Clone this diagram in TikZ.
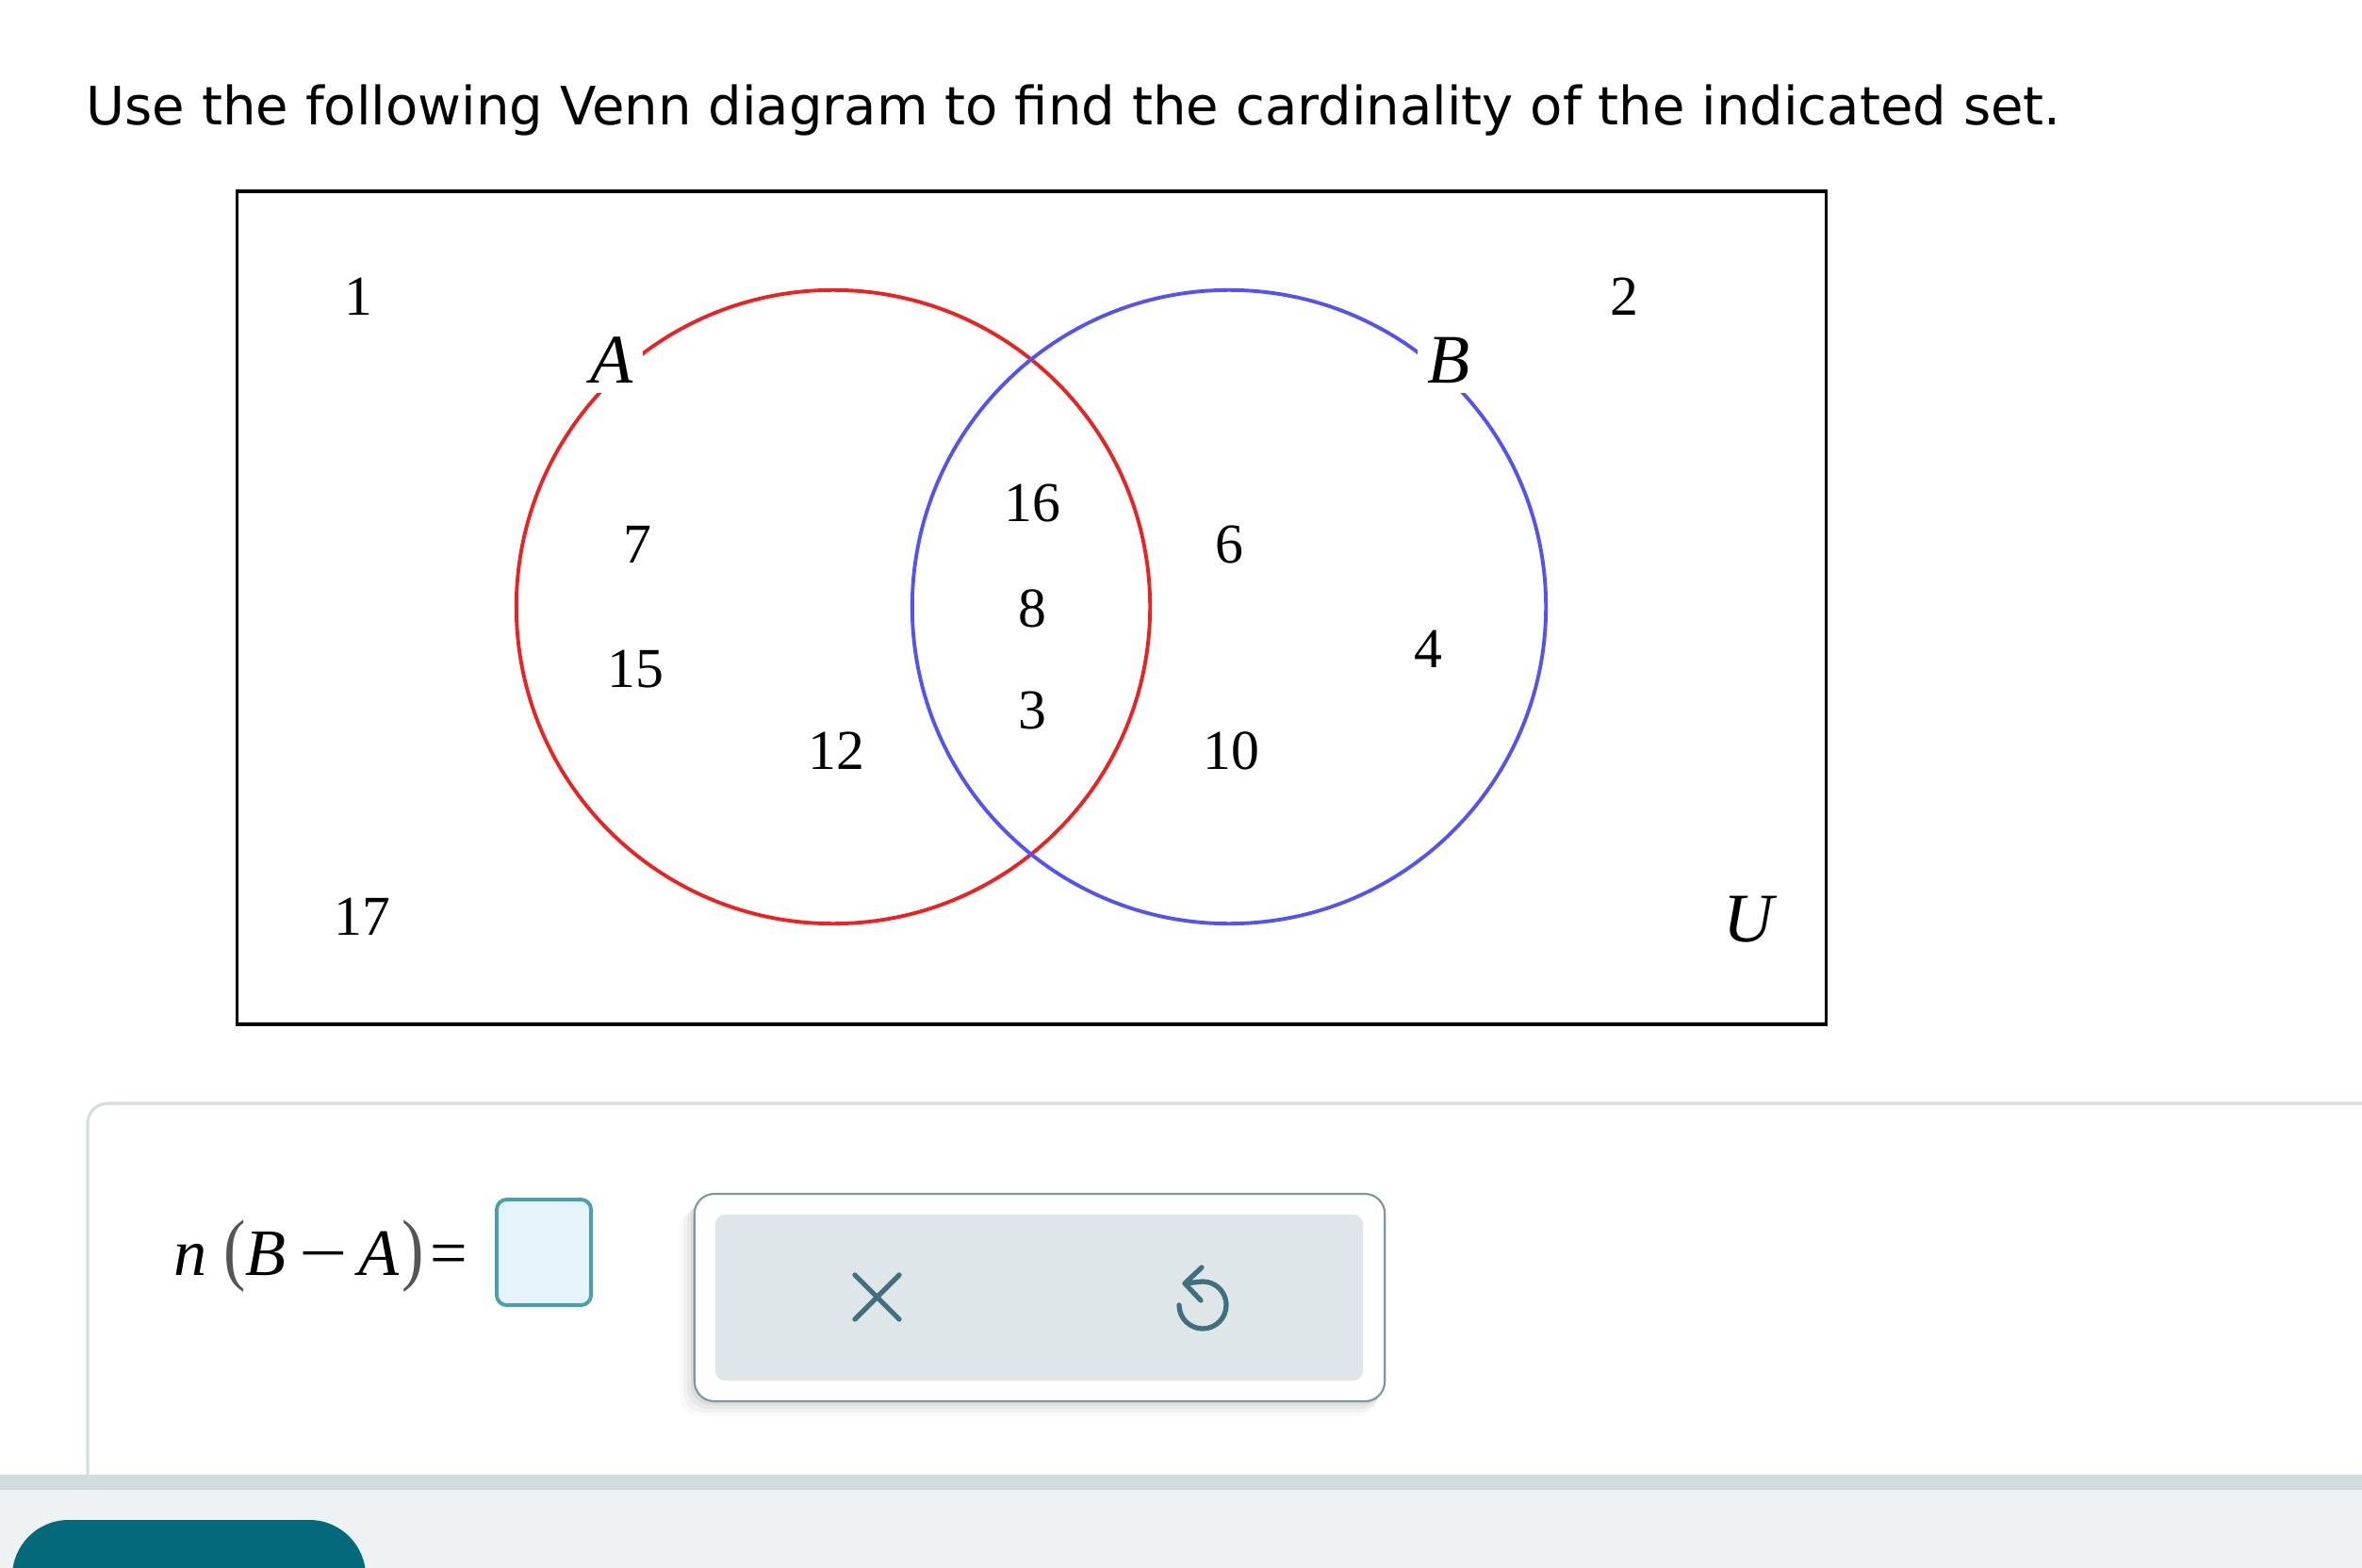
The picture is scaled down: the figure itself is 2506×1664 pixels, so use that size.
\documentclass[tikz,border=0pt]{standalone}
\usepackage{fontspec}
\setmainfont{Liberation Serif}
\newfontfamily\uifont{DejaVu Sans}
\definecolor{vennred}{RGB}{238,32,32}
\definecolor{vennblue}{RGB}{82,82,246}
\definecolor{panelline}{RGB}{213,221,224}
\definecolor{barline}{RGB}{210,219,222}
\definecolor{pagebg}{RGB}{238,242,243}
\definecolor{btnteal}{RGB}{2,106,122}
\definecolor{boxteal}{RGB}{72,158,178}
\definecolor{boxfill}{RGB}{229,244,248}
\definecolor{groupline}{RGB}{125,150,160}
\definecolor{toolgray}{RGB}{223,230,232}
\definecolor{iconteal}{RGB}{64,112,128}
\definecolor{parengray}{RGB}{85,85,85}
\usetikzlibrary{positioning}
\tikzset{
  num/.style={font=\fontsize{17}{20}\selectfont, inner sep=1pt},
  setlabel/.style={font=\fontsize{21}{24}\selectfont\itshape, fill=white, inner sep=3pt},
  venn/.style={circle, line width=1.1pt, minimum size=6.72cm, inner sep=0pt},
}
\begin{document}
\begin{tikzpicture}[x=0.01cm,y=-0.01cm]
  \clip (0,0) rectangle (2506,1664);
  \fill[white] (0,0) rectangle (2506,1664);
  % page footer
  \fill[pagebg] (0,1581) rectangle (2506,1664);
  \fill[barline] (0,1565) rectangle (2506,1581);
  \fill[btnteal, rounded corners=17pt] (13,1613) rectangle (388,1800);
  % answer panel
  \draw[panelline, line width=0.9pt, rounded corners=6pt] (93,1565) -- (93,1171) -- (2520,1171);

  \node[anchor=base west, inner sep=0pt, font=\uifont\fontsize{15.95}{20}\selectfont] (question) at (91,133)
    {Use the following Venn diagram to find the cardinality of the indicated set.};

  % universe and sets
  \node[draw, line width=1.1pt, minimum width=16.85cm, minimum height=8.84cm] (univ) at (1094.5,645) {};
  \node[venn, draw=vennred] (setA) at (884,644) {};
  \node[venn, draw=vennblue] (setB) at (1304,644) {};
  \draw
    (649,382) node[setlabel] (labA){A}
    (1537,382) node[setlabel] (labB){B}
    (1855,976) node[setlabel] (labU){U};
  \draw
    (380,315) node[num] (n1){1}
    (1723,315) node[num] (n2){2}
    (384,973) node[num] (n17){17}
    (676,578) node[num] (n7){7}
    (674,710) node[num] (n15){15}
    (887,797) node[num] (n12){12}
    (1095,534) node[num] (n16){16}
    (1095,646) node[num] (n8){8}
    (1095,754) node[num] (n3){3}
    (1304,578) node[num] (n6){6}
    (1515,689) node[num] (n4){4}
    (1306,797) node[num] (n10){10};

  % question line
  \node[anchor=base west, inner sep=0pt, font=\fontsize{20}{24}\selectfont] (expr) at (184,1353)
    {\itshape n\hspace{5pt}{\upshape\color{parengray}\scalebox{1}[1.2]{(}}B\hspace{4pt}{\upshape\scalebox{1.3}[1]{−}}\hspace{3pt}A\hspace{1pt}{\upshape\color{parengray}\scalebox{1}[1.2]{)}}\hspace{2pt}{\upshape =}};
  \node[draw=boxteal, fill=boxfill, line width=1.1pt, rounded corners=3pt,
        minimum width=1cm, minimum height=1.12cm] (answer) at (577,1329) {};

  % tool buttons
  \foreach \d/\o in {4/0.05,8/0.04,12/0.03,16/0.02}
    \fill[black, opacity=\o, rounded corners=6pt] (737-\d,1267+\d) rectangle (1469-\d/2,1487+\d);
  \node[draw=groupline, fill=white, line width=0.6pt, rounded corners=6pt,
        minimum width=7.32cm, minimum height=2.2cm] (tools) at (1103,1377) {};
  \node[fill=toolgray, rounded corners=3pt, minimum width=6.87cm, minimum height=1.76cm] (toolbar) at (1102.5,1377) {};
  \draw[iconteal, line width=1.5pt, line cap=round]
    (907,1353) -- (954,1400) (954,1353) -- (907,1400);
  \draw[iconteal, line width=1.5pt, line cap=round, line join=round]
    (1251,1385) arc[start angle=180, end angle=-100, radius=25] -- (1257,1362)
    (1275,1345) -- (1257,1362) -- (1274,1380);
\end{tikzpicture}
\end{document}
